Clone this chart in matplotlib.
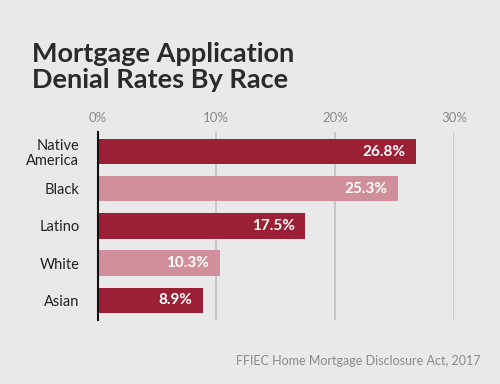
import matplotlib.pyplot as plt

# data
groups = ['Native\nAmerica', 'Black', 'Latino', 'White', 'Asian']
rates = [26.8, 25.3, 17.5, 10.3, 8.9]
bar_colors = ['#9b2035', '#d08f9a', '#9b2035', '#d08f9a', '#9b2035']
ticks = [0, 10, 20, 30]
tick_labels = ['0%', '10%', '20%', '30%']

plt.rcParams['font.family'] = ['Lato', 'DejaVu Sans']
bg = '#e9e9e9'

fig = plt.figure(figsize=(5, 3.84), dpi=100, facecolor=bg)
ax = fig.add_axes([0.195, 0.167, 0.713, 0.489], facecolor=bg)

ypos = list(range(len(groups)))
ax.barh(ypos, rates, height=0.68, color=bar_colors, zorder=3)

for y, v in zip(ypos, rates):
    ax.text(v - 0.9, y, f'{v}%', ha='right', va='center', color='white',
            fontsize=11, fontweight='bold', zorder=4)

ax.set_xlim(0, 30)
ax.set_ylim(4.53, -0.53)
ax.set_xticks(ticks)
ax.set_xticklabels(tick_labels)
ax.xaxis.tick_top()
ax.tick_params(axis='x', length=0, pad=6, labelsize=9.5, labelcolor='#8a8a8a')
ax.set_yticks(ypos)
ax.set_yticklabels(groups)
ax.tick_params(axis='y', length=0, pad=13, labelsize=10.5, labelcolor='#222222')
for lab in ax.get_yticklabels():
    lab.set_linespacing(1.05)

ax.grid(axis='x', color='#c4c4c4', linewidth=1.3, zorder=0)
for s in ['top', 'right', 'bottom']:
    ax.spines[s].set_visible(False)
ax.spines['left'].set_color('#111111')
ax.spines['left'].set_linewidth(1.5)
ax.spines['left'].set_zorder(5)

fig.text(0.064, 0.771, 'Mortgage Application\nDenial Rates By Race', ha='left',
         va='baseline', fontsize=19.5, fontweight='bold', color='#2a2a2a',
         linespacing=1.12)
fig.text(0.96, 0.06, 'FFIEC Home Mortgage Disclosure Act, 2017', ha='right',
         va='center', fontsize=9, color='#8a8a8a')

fig.savefig('out.png', dpi=100, facecolor=bg)
